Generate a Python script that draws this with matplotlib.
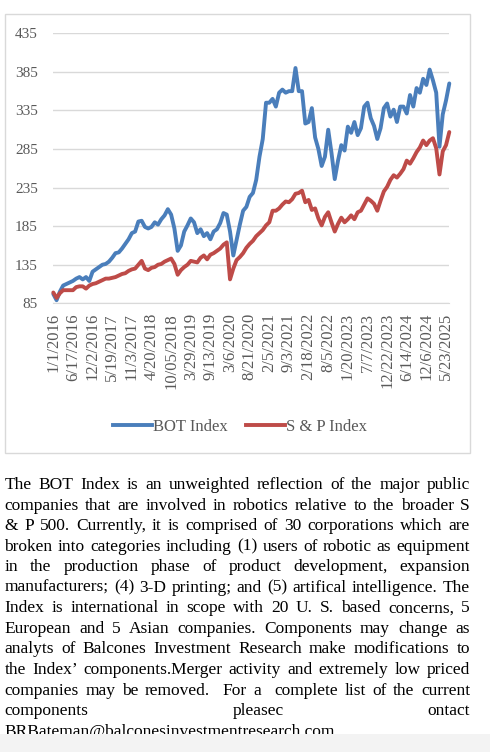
import matplotlib
matplotlib.use('Agg')
import matplotlib.pyplot as plt
import numpy as np
from matplotlib.patches import Rectangle
from matplotlib.lines import Line2D

# ---------------- data ----------------
tick_labels = ["1/1/2016", "6/17/2016", "12/2/2016", "5/19/2017", "11/3/2017",
               "4/20/2018", "10/05/2018", "3/29/2019", "9/13/2019", "3/6/2020",
               "8/21/2020", "2/5/2021", "9/3/2021", "2/18/2022", "8/5/2022",
               "1/20/2023", "7/7/2023", "12/22/2023", "6/14/2024", "12/6/2024",
               "5/23/2025"]

# values sampled every 4 weekly observations
bot_index = [97, 89, 100, 108, 110, 112, 114, 117, 119, 116,
             119, 114, 126, 129, 132, 135, 136, 139, 144, 150,
             151, 156, 162, 168, 176, 178, 191, 192, 184, 182,
             184, 190, 187, 194, 199, 207, 200, 182, 153, 160,
             178, 186, 195, 190, 176, 181, 172, 176, 168, 178,
             181, 189, 202, 200, 178, 147, 167, 187, 205, 210,
             223, 228, 245, 275, 298, 345, 345, 350, 340, 358,
             362, 358, 360, 360, 390, 360, 360, 318, 320, 338,
             300, 285, 263, 275, 310, 280, 246, 270, 290, 283,
             314, 306, 320, 303, 312, 340, 345, 325, 315, 298,
             312, 338, 344, 327, 336, 320, 340, 340, 331, 355,
             340, 364, 358, 376, 368, 388, 374, 358, 288, 330,
             348, 370]

sp_index = [99, 92, 98, 102, 102, 102, 102, 106, 107, 107,
            104, 108, 110, 111, 113, 115, 117, 117, 118, 119,
            121, 123, 124, 127, 129, 130, 135, 140, 130, 128,
            131, 132, 135, 136, 139, 141, 143, 136, 122, 128,
            132, 135, 140, 139, 138, 144, 147, 142, 148, 150,
            153, 156, 161, 164, 116, 130, 141, 145, 150, 157,
            162, 166, 172, 176, 180, 186, 190, 205, 205, 208,
            213, 217, 216, 220, 227, 228, 231, 216, 219, 206,
            208, 195, 186, 197, 203, 190, 178, 188, 196, 190,
            194, 199, 194, 203, 205, 213, 221, 218, 214, 205,
            218, 230, 236, 245, 251, 248, 253, 259, 270, 266,
            273, 281, 287, 296, 290, 296, 299, 286, 252, 282,
            290, 307]

series_names = ["BOT Index", "S & P Index"]
weeks_per_point = 4
weeks_per_label = 24
y_ticks = [85, 135, 185, 235, 285, 335, 385, 435]

paragraph_lines = [
    "The BOT Index is an unweighted reflection of the major public",
    "companies that are involved in robotics relative to the broader S",
    "& P 500. Currently, it is comprised of 30 corporations which are",
    "broken into categories including (1) users of robotic as equipment",
    "in the production phase of product development, expansion",
    "manufacturers; (4) 3-D printing; and (5) artifical intelligence. The",
    "Index is international in scope with 20 U. S. based concerns, 5",
    "European and 5 Asian companies. Components may change as",
    "analyts of Balcones Investment Research make modifications to",
    "the Index\u2019 components.Merger activity and extremely low priced",
    "companies may be removed.  For a  complete list of the current",
    "components pleasec ontact",
    "BRBateman@balconesinvestmentresearch.com",
]

# ---------------- figure ----------------
W, H = 490, 752
fig = plt.figure(figsize=(W / 100, H / 100), dpi=100)
fig.patch.set_facecolor('white')

def fx(px):
    return px / W

def fy(py):
    return 1 - py / H

SERIF = ['Liberation Serif', 'DejaVu Serif']
GREY = '#595959'
BLUE = '#4a7ebb'
RED = '#be4b48'
LW = 2.8

# chart border
fig.patches.append(Rectangle((fx(4.5), fy(452.5)), (470 - 4.5) / W, (452.5 - 13.5) / H,
                             transform=fig.transFigure, fill=False,
                             edgecolor='#d9d9d9', linewidth=1, zorder=0))

ax = fig.add_axes([fx(53.3), fy(303.3), (449.3 - 53.3) / W, (303.3 - 33.3) / H])
x = np.arange(len(bot_index)) * weeks_per_point
ax.plot(x, bot_index, color=BLUE, lw=LW, solid_joinstyle='round',
        solid_capstyle='round', clip_on=False, zorder=3)
ax.plot(x, sp_index, color=RED, lw=LW, solid_joinstyle='round',
        solid_capstyle='round', clip_on=False, zorder=4)
ax.set_xlim(0, x[-1])
ax.set_ylim(85, 435)
ax.set_yticks(y_ticks)
ax.set_yticklabels([str(v) for v in y_ticks], family=SERIF, fontsize=11, color=GREY)
ax.set_xticks(np.arange(len(tick_labels)) * weeks_per_label)
ax.set_xticklabels(tick_labels, rotation=90, family=SERIF, fontsize=12, color=GREY)
ax.grid(axis='y', color='#d9d9d9', lw=1)
ax.set_axisbelow(True)
for s in ['top', 'right', 'left']:
    ax.spines[s].set_visible(False)
ax.spines['bottom'].set_color('#d9d9d9')
ax.tick_params(axis='both', length=0)
ax.tick_params(axis='y', pad=11)
ax.tick_params(axis='x', pad=7)

handles = [Line2D([], [], color=BLUE, lw=LW), Line2D([], [], color=RED, lw=LW)]
leg = fig.legend(handles, series_names, loc='center', bbox_to_anchor=(fx(240), fy(427)),
                 ncol=2, frameon=False, prop={'family': SERIF, 'size': 12},
                 handlelength=2.35, handletextpad=0.05, columnspacing=1.1,
                 labelcolor=GREY)

# ---------------- justified paragraph ----------------
left_px, right_px = 4.5, 470.0
base0 = 489.0
pitch = 20.56
fsize = 12.5
renderer = fig.canvas.get_renderer()
n_lines = len(paragraph_lines)
for k, line in enumerate(paragraph_lines):
    yb = fy(base0 + k * pitch)
    words = line.split(' ')
    texts = []
    widths = []
    for w in words:
        t = fig.text(0, yb, w, family=SERIF, fontsize=fsize, color='black',
                     ha='left', va='baseline')
        texts.append(t)
        if w:
            widths.append(t.get_window_extent(renderer).width)
        else:
            widths.append(0.0)
    if k == n_lines - 1 or len(words) == 1:
        space_w = fig.text(0, 0, 'a a', family=SERIF, fontsize=fsize).get_window_extent(renderer).width
        a_w = fig.text(0, 0, 'aa', family=SERIF, fontsize=fsize).get_window_extent(renderer).width
        gap = space_w - a_w
        fig.texts[-1].remove()
        fig.texts[-1].remove()
    else:
        gap = (right_px - left_px - sum(widths)) / (len(words) - 1)
    xp = left_px
    for t, wd in zip(texts, widths):
        t.set_x(fx(xp))
        xp += wd + gap

# grey band at bottom clipping the last line
fig.patches.append(Rectangle((0, 0), 1, (H - 733.5) / H, transform=fig.transFigure,
                             facecolor='#f3f3f3', edgecolor='none', zorder=10))

fig.savefig('out.png', dpi=100, facecolor='white')
